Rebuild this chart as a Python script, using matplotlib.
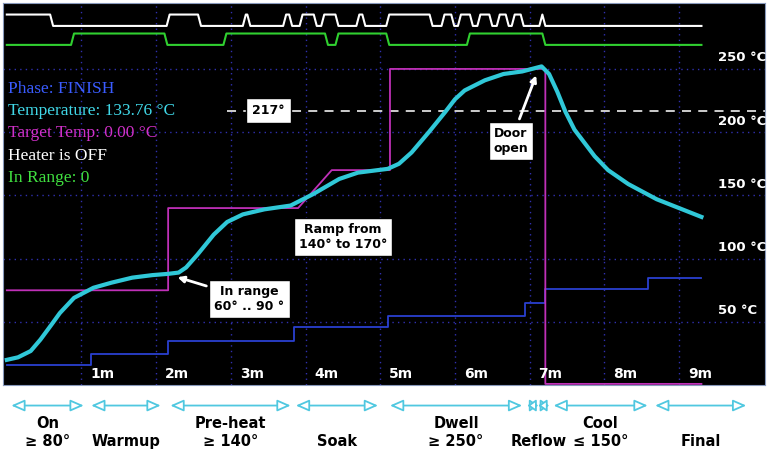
import matplotlib.pyplot as plt

# temperature trace (minutes, deg C)
temp_t = [0, 0.15, 0.32, 0.45, 0.6, 0.71, 0.9, 1.16, 1.4, 1.68, 1.95, 2.16, 2.3, 2.4, 2.55,
          2.77, 2.95, 3.16, 3.45, 3.8, 4.1, 4.45, 4.7, 5.1, 5.25, 5.42, 5.65, 5.87, 6.0,
          6.13, 6.4, 6.65, 6.9, 7.03, 7.16, 7.26, 7.37, 7.48, 7.6, 7.87, 8.05, 8.32,
          8.7, 9.0, 9.3]
temp_c = [20, 22, 27, 36, 48, 57, 69, 77, 81, 85, 87, 88, 89, 93, 103,
          119, 129, 135, 139, 142, 151, 163, 168, 171, 175, 184, 200, 216, 226,
          233, 241, 246, 248, 250, 252, 246, 232, 216, 202, 181, 170, 159,
          147, 140, 133]

# target temperature
target_t = [0, 2.16, 2.16, 3.9, 4.35, 5.13, 5.13, 7.21, 7.21, 9.3]
target_c = [75, 75, 140, 140, 170, 170, 250, 250, 1, 1]

# blue phase staircase
stair_t = [0, 1.13, 2.16, 3.84, 5.1, 6.94, 7.21, 8.58, 9.3]
stair_c = [16, 25, 35, 46, 55, 65, 76, 85, 85]

# digital traces: intervals where signal is high
heater_on = [(0, 0.6), (2.16, 2.58), (3.18, 3.24), (3.72, 3.8), (3.94, 4.13), (4.23, 4.42),
             (4.7, 4.78), (5.1, 5.68), (5.84, 5.97), (6.06, 6.22), (6.32, 6.48),
             (6.58, 6.7), (6.78, 6.9), (7.15, 7.19)]
inrange_on = [(0.88, 2.13), (2.92, 4.28), (4.42, 5.1), (6.18, 7.19)]
t_end = 9.3

minute_labels = ['1m', '2m', '3m', '4m', '5m', '6m', '7m', '8m', '9m']
temp_ticks = [50, 100, 150, 200, 250]

phases = ['On\n≥ 80°', 'Warmup', 'Pre-heat\n≥ 140°', 'Soak', 'Dwell\n≥ 250°', 'Reflow',
          'Cool\n≤ 150°', 'Final']
phase_start = [0.06, 1.13, 2.19, 3.87, 5.13, 6.97, 7.32, 8.68]
phase_end = [1.03, 2.06, 3.8, 4.97, 6.9, 7.26, 8.58, 9.9]

status = [('Phase: FINISH', '#3a5cff'), ('Temperature: 133.76 °C', '#40d8e8'),
          ('Target Temp: 0.00 °C', '#d030c8'), ('Heater is OFF', 'white'),
          ('In Range: 0', '#40e040')]


def digital(intervals, lo, hi, end, edge=0.04):
    xs, ys = [], []
    t0 = 0
    for a, b in intervals:
        if a <= 0:
            xs += [0]; ys += [hi]
        else:
            xs += [t0, a - edge / 2, a + edge / 2]; ys += [lo, lo, hi]
        xs += [b - edge / 2, b + edge / 2]; ys += [hi, lo]
        t0 = b + edge / 2
    xs.append(end); ys.append(lo)
    return xs, ys


XLIM = (-0.05, 10.15)

fig = plt.figure(figsize=(7.68, 4.51), dpi=100)
fig.patch.set_facecolor('white')
ax = fig.add_axes([0.004, 0.146, 0.992, 0.847])
ax.set_facecolor('black')
ax.set_xlim(*XLIM)
ax.set_ylim(0, 302)
ax.set_xticks([])
ax.set_yticks([])
for s in ax.spines.values():
    s.set_color('#8899bb')

grid_kw = dict(color='#3030b0', linestyle=(0, (1, 3)), linewidth=1)
for m in range(1, 10):
    ax.axvline(m, **grid_kw)
    ax.text(m + 0.12, 6, minute_labels[m - 1], color='white', fontsize=10, fontweight='bold')
for v in temp_ticks:
    ax.axhline(v, **grid_kw)
    ax.text(9.52, v + 6, '%d °C' % v, color='white', fontsize=9.5, fontweight='bold')

ax.plot([2.95, XLIM[1]], [217, 217], color='#dddddd', linestyle=(0, (5, 4)), linewidth=1.3)
ax.text(3.5, 217, '217°', ha='center', va='center', fontsize=9, fontweight='bold',
        bbox=dict(boxstyle='square,pad=0.5', fc='white', ec='black'))

wx, wy = digital(heater_on, 284, 293, t_end)
ax.plot(wx, wy, color='white', lw=1.5)
gx, gy = digital(inrange_on, 269, 278, t_end)
ax.plot(gx, gy, color='#30d030', lw=1.5)

ax.plot(stair_t, stair_c, color='#2a40d0', lw=1.3, drawstyle='steps-post')
ax.plot(target_t, target_c, color='#c030b8', lw=1.3)
ax.plot(temp_t, temp_c, color='#30c8d8', lw=3, solid_joinstyle='round')

for i, (txt, c) in enumerate(status):
    ax.text(0.02, 234 - i * 17.5, txt, color=c, fontsize=12.5, family='Liberation Serif',
            va='center')

box = dict(boxstyle='square,pad=0.4', fc='white', ec='black')
arr = dict(arrowstyle='-|>', color='white', lw=2)
ax.annotate('Door\nopen', xy=(7.1, 247), xytext=(6.75, 193), ha='center', va='center',
            fontsize=9, fontweight='bold', bbox=box, arrowprops=arr)
ax.text(4.5, 117, 'Ramp from\n140° to 170°', ha='center', va='center', fontsize=9,
        fontweight='bold', bbox=box)
ax.annotate('In range\n60° .. 90 °', xy=(2.25, 86), xytext=(3.25, 68), ha='center',
            va='center', fontsize=9, fontweight='bold', bbox=box, arrowprops=arr)

pax = fig.add_axes([0.004, 0.0, 0.992, 0.14])
pax.set_xlim(*XLIM)
pax.set_ylim(0, 1)
pax.axis('off')
for name, a, b in zip(phases, phase_start, phase_end):
    if name == 'Reflow':
        mid = (a + b) / 2
        segs = [(a, mid), (mid, b)]
        hl = 0.5
    else:
        segs = [(a, b)]
        hl = 0.8
    for a2, b2 in segs:
        pax.annotate('', xy=(a2, 0.72), xytext=(b2, 0.72),
                     arrowprops=dict(arrowstyle='<|-|>,head_width=0.35,head_length=%s' % hl,
                                     fc='white', ec='#50c8e0', lw=1.3, shrinkA=0, shrinkB=0))
    pax.text((a + b) / 2, 0.03, name, ha='center', va='bottom', fontsize=10.5,
             fontweight='bold', linespacing=1.25)

fig.savefig('out.png', dpi=100)
